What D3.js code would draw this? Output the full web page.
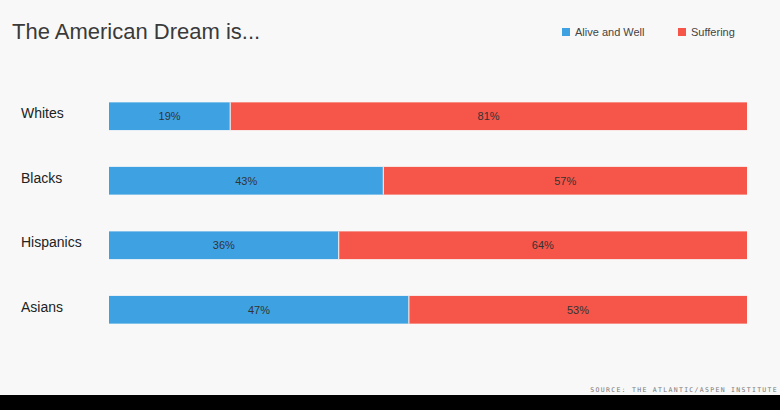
<!DOCTYPE html>
<html><head><meta charset="utf-8">
<script src="https://cdn.jsdelivr.net/npm/d3@7"></script>
<style>body{margin:0;background:#f8f8f8;}svg{display:block;}</style>
</head><body>
<script>
const categories = ["Whites", "Blacks", "Hispanics", "Asians"];
const alive = [19, 43, 36, 47];
const suffering = [81, 57, 64, 53];
const seriesNames = ["Alive and Well", "Suffering"];
const colors = ["#3ea2e2", "#f6564a"];

const W = 780, H = 410;
const svg = d3.select("body").append("svg").attr("width", W).attr("height", H);
svg.append("rect").attr("width", W).attr("height", H).attr("fill", "#f8f8f8");
svg.append("rect").attr("x", 0).attr("y", 395).attr("width", W).attr("height", 15).attr("fill", "#000");

const font = "Helvetica, 'Liberation Sans', Arial, sans-serif";

svg.append("text").attr("x", 12).attr("y", 39).text("The American Dream is...")
  .attr("font-family", font).attr("font-size", 22).attr("fill", "#3a3a3a");

const x = d3.scaleLinear().domain([0, 100]).range([109, 747]);
const y = d3.scaleBand().domain(categories).range([83, 343]).paddingInner(0.57).paddingOuter(0.3);

const rows = categories.map((c, i) => ({c, a: alive[i], s: suffering[i]}));

// legend
const leg = [{n: seriesNames[0], x: 562}, {n: seriesNames[1], x: 678}];
leg.forEach((l, i) => {
  svg.append("rect").attr("x", l.x).attr("y", 28).attr("width", 8).attr("height", 8).attr("fill", colors[i]);
  svg.append("text").attr("x", l.x + 13).attr("y", 36).text(l.n)
    .attr("font-family", font).attr("font-size", 11).attr("fill", "#444");
});

const g = svg.append("g");
rows.forEach(r => {
  const yy = y(r.c), h = y.bandwidth();
  g.append("rect").attr("x", x(0)).attr("y", yy).attr("width", x(r.a) - x(0)).attr("height", h).attr("fill", colors[0]);
  g.append("rect").attr("x", x(r.a)).attr("y", yy).attr("width", x(r.a + r.s) - x(r.a)).attr("height", h).attr("fill", colors[1]);
  g.append("line").attr("x1", x(r.a)).attr("x2", x(r.a)).attr("y1", yy).attr("y2", yy + h).attr("stroke", "#e8e8e8").attr("stroke-width", 1.2);
  g.append("text").attr("x", (x(0) + x(r.a)) / 2).attr("y", yy + h / 2 + 4).attr("text-anchor", "middle")
    .text(r.a + "%").attr("font-family", font).attr("font-size", 11).attr("fill", "#333");
  g.append("text").attr("x", (x(r.a) + x(100)) / 2).attr("y", yy + h / 2 + 4).attr("text-anchor", "middle")
    .text(r.s + "%").attr("font-family", font).attr("font-size", 11).attr("fill", "#333");
  g.append("text").attr("x", 21).attr("y", yy + h / 2 + 2).text(r.c)
    .attr("font-family", font).attr("font-size", 14).attr("fill", "#222");
});

svg.append("text").attr("x", 778).attr("y", 392).attr("text-anchor", "end")
  .text("SOURCE: THE ATLANTIC/ASPEN INSTITUTE")
  .attr("font-family", "'DejaVu Sans Mono', monospace").attr("font-size", 6.5)
  .attr("letter-spacing", 1.3).attr("fill", "#777");
</script>
</body></html>
